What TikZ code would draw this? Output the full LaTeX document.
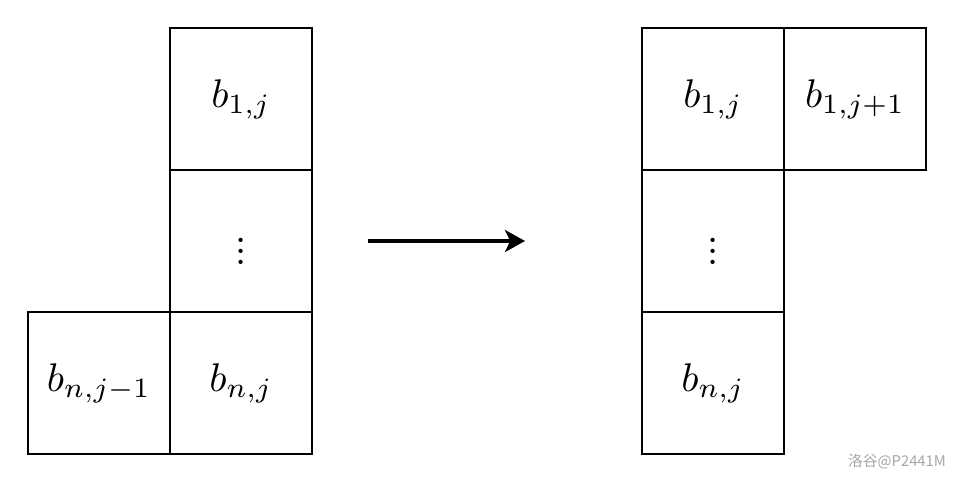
\documentclass[tikz,border=0pt]{standalone}
\usepackage{fontspec}
\newfontfamily\cjk{Noto Sans CJK SC}
\usepackage{tikz}
\usetikzlibrary{arrows.meta, positioning}
\newcommand{\cellvdots}{\vbox{\baselineskip=2.75pt\lineskiplimit=-5pt\kern5pt\hbox{.}\hbox{.}\hbox{.}}}
\tikzset{
        >={Stealth[length=5pt, width=5.5pt, inset=1.3pt]}, % arrow heads
    }
\tikzset{
      cell box/.style={
		draw=black,
		line width=0.5pt,
		minimum width={35.5pt},
		minimum height={35.5pt},
		inner sep=0pt,
		outer sep=0pt,
	  },
  		watermark/.style={
    	text=gray!70, font=\cjk\fontsize{3.7pt}{4pt}\selectfont,
      }
  	}

\begin{document}
\begin{tikzpicture}[node distance=0pt]
    \useasboundingbox (0,0) rectangle (239pt,120.75pt);
    % left column
    \node [cell box] (l1) at (60.25pt,96pt) {$b_{1,j}$};
    \node [cell box, below=of l1] (l2) {\cellvdots};
    \node [cell box, below=of l2] (l3) {$b_{n,j}$};
    \node [cell box, left=of l3] (lx) {$b_{n,j-1}$};
    % right column
    \node [cell box] (r1) at (178.25pt,96pt) {$b_{1,j}$};
    \node [cell box, right=of r1] (rx) {$b_{1,j+1}$};
    \node [cell box, below=of r1] (r2) {\cellvdots};
    \node [cell box, below=of r2] (r3) {$b_{n,j}$};
    % arrow
    \coordinate (from) at (92pt,60.5pt);
    \coordinate (to) at (131.25pt,60.5pt);
    \draw [->, line width=1.2pt] (from) -- (to);
    \node [watermark] (wm) at (224.25pt,5.25pt) {洛谷@P2441M};
  \end{tikzpicture}
\end{document}
